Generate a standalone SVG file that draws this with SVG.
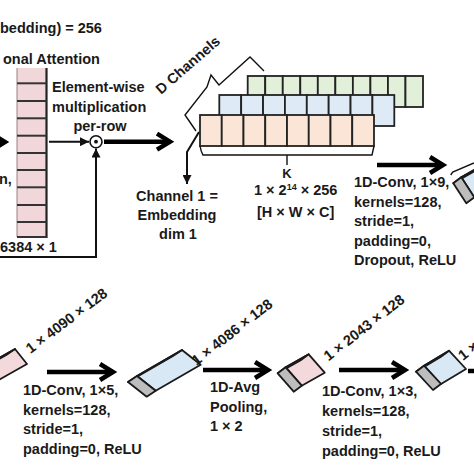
<svg xmlns="http://www.w3.org/2000/svg" width="474" height="474" viewBox="0 0 474 474">
<defs>
<style>
text{font-family:"Liberation Sans",Arial,sans-serif;font-weight:bold;font-size:14.5px;fill:#1a1a1a}
.mid{text-anchor:middle}
.thin{stroke:#111;stroke-width:2;fill:none}
.thick{stroke:#000;stroke-width:4.5;fill:none}
.cell{stroke:#222;stroke-width:1.8}
.f{fill:#fbe5d6}.m{fill:#deebf7}.b{fill:#e2f0d9}
.box{stroke:#1a1a1a;stroke-width:1.8;stroke-linejoin:round}
.pk{fill:#f4d9dc}.bl{fill:#d8e8f4}.gy{fill:#bdbdbd}
.br{stroke:#111;stroke-width:1.4;fill:none}
</style>
<marker id="ah" viewBox="0 0 10 10" refX="10" refY="5" markerWidth="9" markerHeight="9" markerUnits="userSpaceOnUse" orient="auto"><path d="M0,0 L10,5 L0,10 z" fill="#111"/></marker>
<marker id="ahT" viewBox="0 0 22 22" refX="17" refY="11" markerWidth="22" markerHeight="22" markerUnits="userSpaceOnUse" orient="auto"><path d="M4,3 L17,11 L4,19" fill="none" stroke="#000" stroke-width="4.5" stroke-linejoin="miter"/></marker>
</defs>

<g id="top-labels">
<text x="0" y="33">bedding) = 256</text>
<text x="3" y="64">onal Attention</text>
</g>

<g id="attention-column">
<rect x="17" y="68" width="29.5" height="169" fill="#f1d7da"/>
<line x1="17" y1="68" x2="17" y2="237" stroke="#9a8084" stroke-width="1"/>
<line x1="46.5" y1="68" x2="46.5" y2="238" stroke="#222" stroke-width="2.2"/>
<g stroke="#333" stroke-width="2">
<line x1="17" y1="83.3" x2="46.5" y2="83.3"/>
<line x1="17" y1="101" x2="46.5" y2="101"/>
<line x1="17" y1="118.3" x2="46.5" y2="118.3"/>
<line x1="17" y1="135.7" x2="46.5" y2="135.7"/>
<line x1="17" y1="153" x2="46.5" y2="153"/>
<line x1="17" y1="170" x2="46.5" y2="170"/>
<line x1="17" y1="187.3" x2="46.5" y2="187.3"/>
<line x1="17" y1="205" x2="46.5" y2="205"/>
<line x1="17" y1="222" x2="46.5" y2="222"/>
<line x1="17" y1="237" x2="46.5" y2="237"/>
</g>
<text x="-1" y="184">n,</text>
<text x="0" y="252">6384 × 1</text>
</g>

<g id="multiply">
<circle cx="96" cy="141.7" r="6" fill="#fff" stroke="#111" stroke-width="1.6"/>
<circle cx="96" cy="141.7" r="1.9" fill="#111"/>
<text x="52" y="92">Element-wise</text>
<text x="52" y="112">multiplication</text>
<text class="mid" x="100" y="131">per-row</text>
</g>

<g id="channel-stack">
<g class="cell b">
<rect x="247.7" y="76" width="17.53" height="31"/><rect x="265.23" y="76" width="17.53" height="31"/><rect x="282.76" y="76" width="17.53" height="31"/><rect x="300.29" y="76" width="17.53" height="31"/><rect x="317.82" y="76" width="17.53" height="31"/><rect x="335.35" y="76" width="17.53" height="31"/><rect x="352.88" y="76" width="17.53" height="31"/><rect x="370.41" y="76" width="17.53" height="31"/><rect x="387.94" y="76" width="17.53" height="31"/><rect x="405.47" y="76" width="17.53" height="31"/>
</g>
<g class="cell m">
<rect x="219.3" y="95" width="21.875" height="31"/><rect x="241.175" y="95" width="21.875" height="31"/><rect x="263.05" y="95" width="21.875" height="31"/><rect x="284.925" y="95" width="21.875" height="31"/><rect x="306.8" y="95" width="21.875" height="31"/><rect x="328.675" y="95" width="21.875" height="31"/><rect x="350.55" y="95" width="21.875" height="31"/><rect x="372.425" y="95" width="21.875" height="31"/>
</g>
<g class="cell f">
<rect x="200" y="115" width="21.75" height="31"/><rect x="221.75" y="115" width="21.75" height="31"/><rect x="243.5" y="115" width="21.75" height="31"/><rect x="265.25" y="115" width="21.75" height="31"/><rect x="287" y="115" width="21.75" height="31"/><rect x="308.75" y="115" width="21.75" height="31"/><rect x="330.5" y="115" width="21.75" height="31"/><rect x="352.25" y="115" width="21.75" height="31"/>
</g>
<path class="br" d="M196,131 L185,115 L207,87 L211,75 L219,85 L250,57 L264,71"/>
<path class="br" d="M200,146 Q201,152 203,155 L372,155 L374,146 M287,155 L287,165"/>
<text transform="translate(161,95) rotate(-41)">D Channels</text>
<text class="mid" x="287" y="178" style="font-size:13px">K</text>
<text x="254" y="195">1 × 2<tspan dy="-5" style="font-size:9px">14</tspan><tspan dy="5"> × 256</tspan></text>
<text x="257" y="217">[H × W × C]</text>
<text class="mid" x="177" y="201">Channel 1 =</text>
<text class="mid" x="177" y="220">Embedding</text>
<text class="mid" x="178" y="239">dim 1</text>
</g>

<g id="conv1-label">
<text x="354" y="187">1D-Conv, 1×9,</text>
<text x="354" y="207">kernels=128,</text>
<text x="354" y="226">stride=1,</text>
<text x="354" y="245.5">padding=0,</text>
<text x="354" y="265">Dropout, ReLU</text>
</g>

<g id="cuboid-conv1">
<polygon class="box bl" points="461.3,177.3 506.3,151.3 519.3,171.3 474.3,197.3"/>
<polygon class="box bl" points="453.3,183.3 498.3,157.3 506.3,151.3 461.3,177.3"/>
<polygon class="box gy" points="453.3,183.3 461.3,177.3 474.3,197.3 466.3,203.3"/>
<polyline class="br" points="450.7,175 452.7,172 474,163"/>
</g>

<g id="cuboid-4090">
<polygon class="box pk" points="-33,376 15,349 27,364 -21,391"/>
<polygon class="box pk" points="-41.7,382 6.3,355 15,349 -33,376"/>
<text transform="translate(30.6,354) rotate(-37)">1 × 4090 × 128</text>
</g>

<g id="label-conv2">
<text x="23" y="395">1D-Conv, 1×5,</text>
<text x="23" y="414.5">kernels=128,</text>
<text x="23" y="434">stride=1,</text>
<text x="23" y="454">padding=0, ReLU</text>
</g>

<g id="cuboid-4086">
<polygon class="box bl" points="137,376 182,350 200.7,364.7 155.7,390.7"/>
<polygon class="box bl" points="128,382 173,356 182,350 137,376"/>
<polygon class="box gy" points="128,382 137,376 155.7,390.7 146.7,396.7"/>
<text transform="translate(196.6,366) rotate(-38)">1 × 4086 × 128</text>
</g>

<g id="label-pool">
<text x="210" y="392">1D-Avg</text>
<text x="210" y="411.5">Pooling,</text>
<text x="210" y="431">1 × 2</text>
</g>

<g id="cuboid-2043">
<polygon class="box pk" points="285.7,367.3 308.7,354.3 324.7,372.7 301.7,385.7"/>
<polygon class="box pk" points="277.7,373.3 300.7,360.3 308.7,354.3 285.7,367.3"/>
<polygon class="box gy" points="277.7,373.3 285.7,367.3 301.7,385.7 293.7,391.7"/>
<text transform="translate(328.6,361.6) rotate(-38)">1 × 2043 × 128</text>
</g>

<g id="label-conv3">
<text x="322" y="396">1D-Conv, 1×3,</text>
<text x="322" y="416">kernels=128,</text>
<text x="322" y="436">stride=1,</text>
<text x="322" y="456">padding=0, ReLU</text>
</g>

<g id="cuboid-next">
<polygon class="box bl" points="424,365.7 449,350.7 466,369 441,384"/>
<polygon class="box bl" points="416,371.7 441,356.7 449,350.7 424,365.7"/>
<polygon class="box gy" points="416,371.7 424,365.7 441,384 433,390"/>
<text transform="translate(463,361) rotate(-38)">1 ×</text>
</g>

<g id="connectors">
<line class="thick" x1="-12" y1="142" x2="5" y2="142" marker-end="url(#ahT)"/>
<line class="thin" x1="49" y1="141.7" x2="89" y2="141.7" marker-end="url(#ah)"/>
<polyline class="thin" points="0,257 96,257 96,148.5" marker-end="url(#ah)"/>
<line class="thick" x1="104" y1="141.7" x2="170" y2="141.7" marker-end="url(#ahT)"/>
<polyline class="thin" points="199,132 187,152 187,184" marker-end="url(#ah)"/>
<line class="thick" x1="377" y1="165" x2="443" y2="165" marker-end="url(#ahT)"/>
<line class="thick" x1="47" y1="372" x2="113" y2="372" marker-end="url(#ahT)"/>
<line class="thick" x1="203" y1="370" x2="268" y2="370" marker-end="url(#ahT)"/>
<line class="thick" x1="339" y1="370" x2="405" y2="370" marker-end="url(#ahT)"/>
<line class="thick" x1="468" y1="371" x2="494" y2="371"/>
</g>
</svg>
